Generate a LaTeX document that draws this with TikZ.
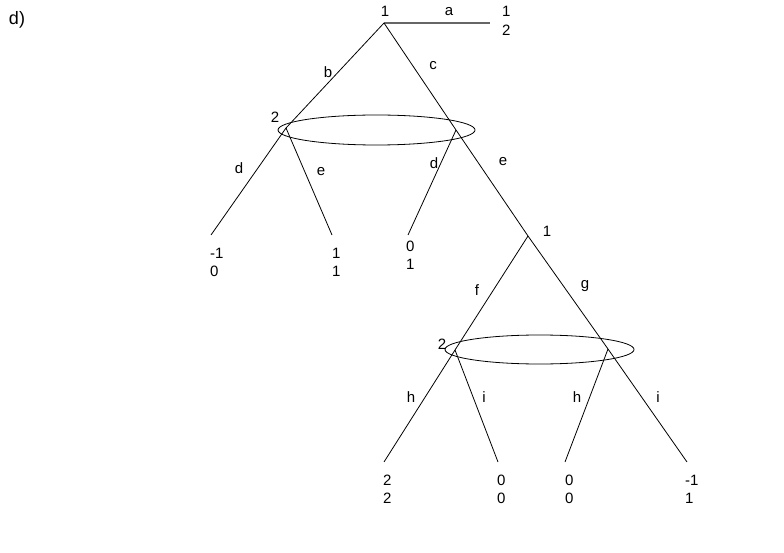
\documentclass[tikz,border=0pt]{standalone}
\usepackage{fontspec}
\setmainfont{Liberation Sans}
\usepackage{tikz}
\usetikzlibrary{positioning, calc}

\begin{document}
\begin{tikzpicture}[x=1pt,y=-1pt,
  lbl/.style={inner sep=0pt, font=\fontsize{15}{18.5}\selectfont},
  pay/.style={inner sep=0pt, anchor=base west, align=left, font=\fontsize{15}{18.5}\selectfont},
  edge/.style={line width=0.8pt}]
\useasboundingbox (0,0) rectangle (784,553);
% Part label
\node[inner sep=0pt, font=\fontsize{18}{20}\selectfont] (part) at (17,20) {d)};
% Decision nodes and leaves
\coordinate (root) at (384,23);
\coordinate (aend) at (490,23);
\coordinate (p2l) at (286,128);
\coordinate (p2r) at (456,130);
\coordinate (p1low) at (528,236);
\coordinate (q2l) at (455,350);
\coordinate (q2r) at (608,349);
\coordinate (lfa) at (211,235);
\coordinate (lfb) at (332,235);
\coordinate (lfc) at (408,235);
\coordinate (lfd) at (384,462);
\coordinate (lfe) at (498,462);
\coordinate (lff) at (565,462);
\coordinate (lfg) at (687,462);
% Branches
\draw[line width=1.2pt, black!60] (root) -- (aend);
\draw[edge] (root) -- (p2l) -- (lfa);
\draw[edge] (p2l) -- (lfb);
\draw[edge] (root) -- (p2r) -- (p1low);
\draw[edge] (p2r) -- (lfc);
\draw[edge] (p1low) -- (q2l) -- (lfd);
\draw[edge] (q2l) -- (lfe);
\draw[edge] (p1low) -- (q2r) -- (lfg);
\draw[edge] (q2r) -- (lff);
% Information sets
\draw[edge] (376.5,130) ellipse [x radius=98.5, y radius=15];
\draw[edge] (539.5,349.5) ellipse [x radius=94.5, y radius=14.5];
% Player labels
\node[lbl] (pl1) at (385,11) {1};
\node[lbl] (pl2) at (275,117) {2};
\node[lbl] (pl3) at (547,231) {1};
\node[lbl] (pl4) at (442,344) {2};
% Action labels
\node[lbl] (act a) at (449,12) {a};
\node[lbl] (act b) at (328,72) {b};
\node[lbl] (act c) at (433,66) {c};
\node[lbl] (act d1) at (239,168) {d};
\node[lbl] (act e1) at (321,172) {e};
\node[lbl] (act d2) at (434,163) {d};
\node[lbl] (act e2) at (503,162) {e};
\node[lbl] (act f) at (477,290) {f};
\node[lbl] (act g) at (585,286) {g};
\node[lbl] (act h1) at (411,397) {h};
\node[lbl] (act i1) at (484,397) {i};
\node[lbl] (act h2) at (577,397) {h};
\node[lbl] (act i2) at (658,397) {i};
% Payoffs (anchored at the baseline of the lower line)
\node[pay] (pay a) at (502,35.5) {1\\2};
\node[pay] (pay b) at (210,276.5) {-1\\0};
\node[pay] (pay c) at (332,276.5) {1\\1};
\node[pay] (pay d) at (406,269.5) {0\\1};
\node[pay] (pay e) at (383,503.5) {2\\2};
\node[pay] (pay f) at (497,503.5) {0\\0};
\node[pay] (pay g) at (565,503.5) {0\\0};
\node[pay] (pay h) at (685,503.5) {-1\\1};
\end{tikzpicture}
\end{document}
